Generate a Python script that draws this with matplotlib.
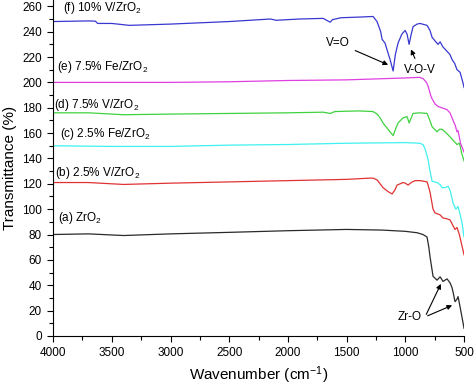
import matplotlib
matplotlib.use("Agg")
import matplotlib.pyplot as plt
from matplotlib.ticker import MultipleLocator

plt.rcParams["font.family"] = ["Liberation Sans", "DejaVu Sans"]
plt.rcParams["mathtext.fontset"] = "custom"
plt.rcParams["mathtext.rm"] = "Liberation Sans"
plt.rcParams["mathtext.it"] = "Liberation Sans:italic"

# (a) ZrO2
wn_a = [4000, 3700, 3400, 3000, 2500, 2000, 1500, 1200, 1000, 900, 850, 815, 800, 789, 764,
        730, 704, 679, 645, 620, 602, 590, 577, 560, 551, 534, 520, 500]
t_a = [80, 80.5, 79.2, 80.5, 81.7, 83, 84, 83.5, 82.5, 81.4, 80, 78, 70, 62, 47,
       44, 46.6, 43, 45, 42, 38, 33, 27, 29, 31, 23, 16, 6]

# (b) 2.5% V/ZrO2
wn_b = [4000, 3700, 3400, 3000, 2500, 2000, 1500, 1300, 1275, 1240, 1190, 1150, 1113, 1090,
        1070, 1019, 1000, 977, 950, 917, 870, 815, 800, 789, 764, 747, 704, 679, 650, 619,
        600, 577, 560, 540, 520, 500]
t_b = [121, 121, 119.5, 120.5, 121.5, 122.5, 123.5, 124.5, 124.5, 123, 117, 114, 112, 115,
       119, 121, 120.5, 119, 121, 122.5, 122.5, 121.5, 117, 113, 100, 97, 95.5, 93, 92.5, 91.5,
       88, 84, 85.5, 80, 72, 64]

# (c) 2.5% Fe/ZrO2
wn_c = [4000, 3500, 3000, 2500, 2000, 1500, 1000, 880, 849, 830, 806, 790, 772, 750, 730,
        700, 687, 660, 636, 619, 594, 570, 551, 534, 515, 500]
t_c = [150, 149.5, 149.5, 150.5, 151, 152, 152.5, 152, 151, 147, 139, 130, 122, 121.5, 121,
       119, 117, 117, 118, 115, 105, 100, 102, 96, 88, 78]

# (d) 7.5% V/ZrO2
wn_d = [4000, 3700, 3400, 3000, 2500, 2000, 1700, 1640, 1600, 1400, 1275, 1240, 1215, 1190,
        1156, 1130, 1104, 1080, 1062, 1020, 985, 968, 950, 934, 880, 815, 795, 772, 750, 730,
        710, 687, 650, 619, 590, 560, 540, 534, 520, 500]
t_d = [176, 176, 174.5, 175, 175.5, 176, 176.5, 175.5, 177, 177.5, 177, 175, 172, 168,
       164, 161, 158, 164, 168, 172, 173, 168, 172, 175.5, 176, 175.5, 171, 165, 163, 161,
       163, 163, 160, 157, 154, 151, 152, 150, 144, 138]

# (e) 7.5% Fe/ZrO2
wn_e = [4000, 3500, 3000, 2500, 2000, 1500, 1000, 880, 849, 820, 806, 785, 772, 747, 721,
        690, 645, 620, 602, 575, 560, 551, 530, 500]
t_e = [200, 200, 200, 200.5, 201.5, 202, 203.5, 204, 203, 200, 197, 190, 187, 183, 181,
       180, 178.5, 176, 172, 166, 161, 162, 152, 145]

# (f) 10% V/ZrO2
wn_f = [4000, 3700, 3640, 3620, 3500, 3350, 3000, 2500, 2150, 2100, 1900, 1700, 1640, 1620,
        1550, 1400, 1275, 1241, 1210, 1198, 1173, 1150, 1130, 1104, 1085, 1062, 1030, 1002,
        985, 968, 950, 934, 900, 875, 815, 790, 772, 740, 721, 704, 680, 645, 620, 602, 580,
        560, 534, 510, 500]
t_f = [248, 248.5, 248.3, 246.5, 246.5, 245, 246, 248, 250, 249, 250, 250.5, 247.5, 249.5,
       251, 251.5, 252, 248, 240, 234, 231, 224, 218, 209, 222, 231, 238, 241,
       238, 230, 238, 244, 246, 246.5, 245, 241, 235.5, 232, 230, 232, 228, 224.5, 222, 218, 215,
       210, 208, 200, 196]

series = [
    (wn_a, t_a, "#2a2a2a", "(a) ZrO$_2$", 3957, 93),
    (wn_b, t_b, "#e03232", "(b) 2.5% V/ZrO$_2$", 3983, 128.5),
    (wn_c, t_c, "#3ff0f0", "(c) 2.5% Fe/ZrO$_2$", 3940, 159.5),
    (wn_d, t_d, "#3fd23f", "(d) 7.5% V/ZrO$_2$", 3991, 182.5),
    (wn_e, t_e, "#e03fe0", "(e) 7.5% Fe/ZrO$_2$", 3966, 212),
    (wn_f, t_f, "#3838d0", "(f) 10% V/ZrO$_2$", 3915, 259),
]

fig = plt.figure(figsize=(4.74, 3.87), dpi=100)
ax = fig.add_axes([0.112, 0.132, 0.867, 0.868])

for wn, t, color, label, lx, ly in series:
    ax.plot(wn, t, color=color, linewidth=0.9)
    ax.text(lx, ly, label, fontsize=8.5, va="center", ha="left")

# band annotations
arrow = dict(arrowstyle="-|>", color="black", lw=0.8, mutation_scale=7)
ax.annotate("V=O", xy=(1125, 213), xytext=(1573, 231), fontsize=8.5,
            ha="center", va="center", arrowprops=arrow)
ax.annotate("V-O-V", xy=(962, 228), xytext=(875, 210), fontsize=8.5,
            ha="center", va="center", arrowprops=arrow)
ax.text(960, 15, "Zr-O", fontsize=8.5, ha="center", va="center")
ax.annotate("", xy=(687, 43), xytext=(832, 15), arrowprops=arrow)
ax.annotate("", xy=(580, 25), xytext=(832, 15), arrowprops=arrow)

ax.set_xlim(4000, 500)
ax.set_ylim(0, 265)
ax.xaxis.set_major_locator(MultipleLocator(500))
ax.xaxis.set_minor_locator(MultipleLocator(250))
ax.yaxis.set_major_locator(MultipleLocator(20))
ax.yaxis.set_minor_locator(MultipleLocator(10))
ax.tick_params(which="major", direction="out", length=4.5, width=0.8, labelsize=8.5)
ax.tick_params(which="minor", direction="out", length=3, width=0.8)
ax.spines["top"].set_visible(False)
ax.spines["right"].set_visible(False)
ax.set_xlabel("Wavenumber (cm$^{-1}$)", fontsize=11)
ax.set_ylabel("Transmittance (%)", fontsize=11)

fig.savefig("out.png", dpi=100)
